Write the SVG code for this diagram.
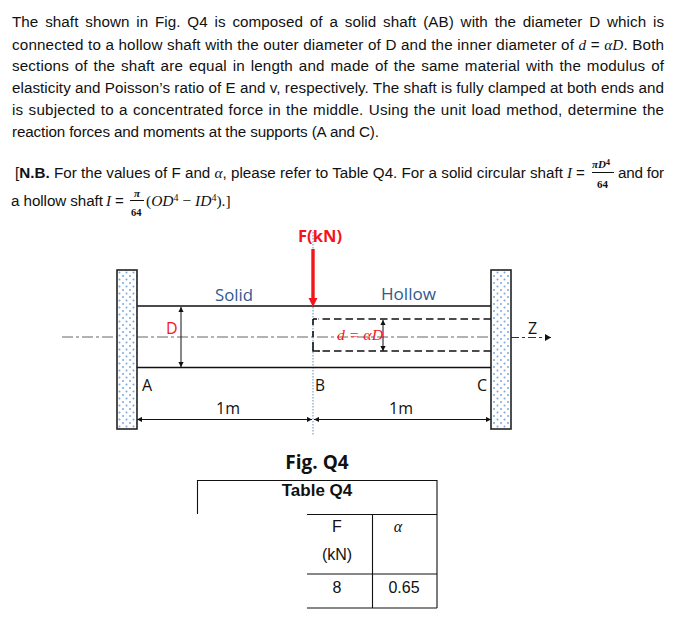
<svg xmlns="http://www.w3.org/2000/svg" width="679" height="617" viewBox="0 0 679 617">
<style>
text{font-family:"Liberation Sans",Arial,sans-serif;fill:#111}
.b{font-size:15.2px}
.m{font-family:"Liberation Serif","Times New Roman",serif;font-style:italic}
.n{font-family:"Liberation Serif","Times New Roman",serif}
.c{font-family:"Open Sans","Noto Sans",sans-serif;font-size:16px}
.r{fill:#f4141c}
.u{fill:#2f5a8f}
.s{stroke:#111;stroke-width:1.6;fill:none}
.t{stroke:#111;stroke-width:1.1;fill:none}
.d{stroke:#111;stroke-width:1;fill:none;marker-start:url(#as);marker-end:url(#ae)}
.w{fill:url(#dots);stroke:#222;stroke-width:1.6}
</style>
<defs>
<pattern id="dots" width="7" height="7" patternUnits="userSpaceOnUse" patternTransform="translate(118 271)">
<rect width="7" height="7" fill="#fff"/>
<circle cx="1.500" cy="1.500" r="1" fill="#7ba8dc"/>
<circle cx="5" cy="5" r="1" fill="#7ba8dc"/>
</pattern>
<marker id="ae" markerWidth="6" markerHeight="6" refX="5" refY="3" orient="auto"><path d="M0 0.4L5 3L0 5.6Z" fill="#111"/></marker>
<marker id="as" markerWidth="6" markerHeight="6" refX="1" refY="3" orient="auto"><path d="M6 0.4L1 3L6 5.6Z" fill="#111"/></marker>
</defs>
<rect width="679" height="617" fill="#fff"/>
<g id="problem-text">
<text class="b" x="12" y="27" word-spacing="2.5" textLength="652" lengthAdjust="spacing">The shaft shown in Fig. Q4 is composed of a solid shaft (AB) with the diameter D which is</text>
<text class="b" x="12" y="50" textLength="652" lengthAdjust="spacing">connected to a hollow shaft with the outer diameter of D and the inner diameter of <tspan class="m">d</tspan> = <tspan class="m">αD</tspan>. Both</text>
<text class="b" x="12" y="71" word-spacing="1.5" textLength="652" lengthAdjust="spacing">sections of the shaft are equal in length and made of the same material with the modulus of</text>
<text class="b" x="12" y="93" textLength="652" lengthAdjust="spacing">elasticity and Poisson’s ratio of E and v, respectively.  The shaft is fully clamped at both ends and</text>
<text class="b" x="12" y="115" word-spacing="0.8" textLength="652" lengthAdjust="spacing">is subjected to a concentrated force in the middle. Using the unit load method, determine the</text>
<text class="b" x="12" y="137" textLength="367" lengthAdjust="spacing">reaction forces and moments at the supports (A and C).</text>
<text class="b" x="15" y="178" textLength="548" lengthAdjust="spacing">[<tspan font-weight="bold">N.B.</tspan> For the values of F and <tspan class="m">α</tspan>, please refer to Table Q4. For a solid circular shaft</text>
<text class="m" x="567" y="178" font-size="15">I</text>
<text x="576" y="178" font-size="15">=</text>
<text class="m" x="592" y="168" font-size="11" font-weight="bold">πD<tspan font-size="8" dy="-3" style="font-style:normal">4</tspan></text>
<path d="M592 172.500H614" stroke="#111" stroke-width="1"/>
<text class="n" x="597" y="188" font-size="11" font-weight="bold">64</text>
<text class="b" x="618" y="178" textLength="46" lengthAdjust="spacing">and for</text>
<text class="b" x="11" y="206" textLength="92" lengthAdjust="spacing">a hollow shaft</text>
<text class="m" x="106" y="206" font-size="15">I</text>
<text x="115" y="206" font-size="15">=</text>
<text class="m" x="134" y="197" font-size="11" font-weight="bold">π</text>
<path d="M130 200.500H144" stroke="#111" stroke-width="1"/>
<text class="n" x="131" y="216" font-size="10.500" font-weight="bold">64</text>
<text class="n" x="146" y="206" font-size="15.500">(<tspan font-style="italic">OD</tspan><tspan font-size="10" dy="-5">4</tspan><tspan dy="5"> − </tspan><tspan font-style="italic">ID</tspan><tspan font-size="10" dy="-5">4</tspan><tspan dy="5">).]</tspan></text>
</g>
<g id="connectors">
<path d="M62 337H117M137 337H491" stroke="#666" stroke-width="1" stroke-dasharray="11 3 3 3" fill="none"/>
<path d="M511 337.500H551" stroke="#333" stroke-width="1" stroke-dasharray="8 3 3 3" fill="none"/>
<path d="M545 334L551 337.500L545 341Z" fill="#111"/>
<path d="M313 232V435" stroke="#5f8fc0" stroke-width="1" stroke-dasharray="1.500 1.500" fill="none"/>
<path class="d" d="M181 307V367"/>
<path class="d" d="M383 320V351"/>
<path class="d" d="M137 419.500H312"/>
<path class="d" d="M314 419.500H491"/>
</g>
<g id="shaft">
<path class="s" d="M137 306H491M137 367.500H491"/>
<path class="s" d="M491 319H318M491 351H318" stroke-dasharray="7.500 4"/>
<path class="s" d="M313 319V325M313 331V337M313 342V351H320"/>
<path class="s" d="M313 319H317"/>
</g>
<g id="wall-left"><rect class="w" x="117" y="270" width="20" height="159"/></g>
<g id="wall-right"><rect class="w" x="491" y="270" width="20" height="159"/></g>
<g id="force">
<path d="M313 249V298" stroke="#f4141c" stroke-width="3.400"/>
<path d="M308.500 298H317.500L313 307Z" fill="#f4141c"/>
<text class="r" x="298" y="242" font-size="16" font-weight="bold" style="font-family:'Open Sans',sans-serif" textLength="44" lengthAdjust="spacingAndGlyphs">F(kN)</text>
</g>
<g id="labels">
<text class="c u" x="215" y="301" textLength="38" lengthAdjust="spacingAndGlyphs">Solid</text>
<text class="c u" x="381" y="300" textLength="55" lengthAdjust="spacingAndGlyphs">Hollow</text>
<text class="c r" x="166" y="334">D</text>
<text class="m r" x="337" y="340" font-size="14" textLength="46" lengthAdjust="spacingAndGlyphs">d = αD</text>
<text class="c" x="142" y="391">A</text>
<text class="c" x="315" y="391" textLength="10" lengthAdjust="spacingAndGlyphs">B</text>
<text class="c" x="477" y="391">C</text>
<text class="c" x="216" y="414">1m</text>
<text class="c" x="389" y="414">1m</text>
<text class="c" x="528" y="334">Z</text>
</g>
<g id="caption">
<text x="317" y="469" font-size="19" font-weight="bold" text-anchor="middle" style="font-family:'Open Sans',sans-serif">Fig. Q4</text>
</g>
<g id="table">
<path class="t" d="M197.500 514V480.500H437V608M307 514.500H437M307 574H437M307 608H437M372.500 514.500V608"/>
<text x="317" y="496" font-size="17" font-weight="bold" text-anchor="middle">Table Q4</text>
<text x="337" y="532" font-size="16" text-anchor="middle">F</text>
<text x="337" y="560" font-size="16" text-anchor="middle">(kN)</text>
<text x="337" y="593" font-size="16" text-anchor="middle">8</text>
<text class="m" x="398" y="532" font-size="16" text-anchor="middle">α</text>
<text x="404" y="593" font-size="16" text-anchor="middle">0.65</text>
</g>
</svg>
